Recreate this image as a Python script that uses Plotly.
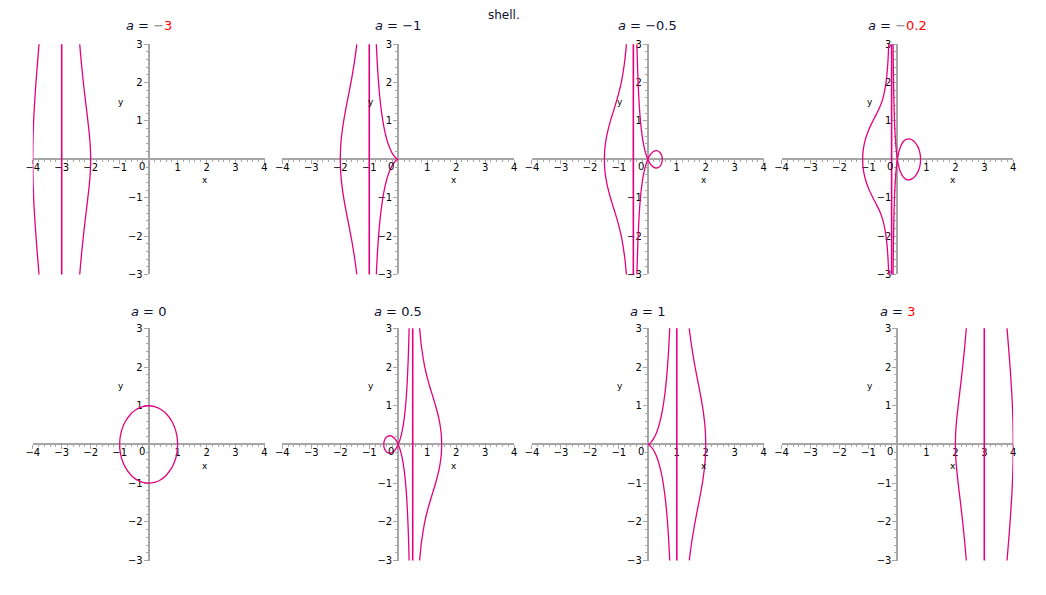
import plotly.graph_objects as go

# parameter of each panel, row by row
A_VALUES = [-3, -1, -0.5, -0.2, 0, 0.5, 1, 3]
RED_VALUES = [-3, -0.2, 3]

# upper halves (y >= 0) of each branch;
# the lower halves are the mirror image in the x-axis
m3_left_x = [-4, -3.99, -3.97, -3.95, -3.9, -3.85, -3.8, -3.78]
m3_left_y = [0, 0.569, 0.995, 1.298, 1.889, 2.386, 2.85, 3.033]
m3_right_x = [-2, -2.01, -2.03, -2.05, -2.1, -2.15, -2.2, -2.25, -2.3, -2.35, -2.38]
m3_right_y = [0, 0.287, 0.509, 0.674, 1.017, 1.333, 1.65, 1.984, 2.346, 2.747, 3.012]

m1_left_x = [-2, -1.99, -1.97, -1.95, -1.9, -1.8, -1.7, -1.6, -1.5, -1.45, -1.43]
m1_left_y = [0, 0.284, 0.494, 0.641, 0.92, 1.35, 1.734, 2.133, 2.598, 2.877, 3.002]
m1_inner_x = [0, -0.05, -0.1, -0.2, -0.3, -0.4, -0.5, -0.6, -0.65, -0.7, -0.72, -0.75, -0.76]
m1_inner_y = [0, 0.016, 0.048, 0.15, 0.306, 0.533, 0.866, 1.375, 1.74, 2.226, 2.469, 2.905, 3.074]

m05_left_x = [-1.5, -1.49, -1.47, -1.45, -1.4, -1.3, -1.2, -1.1, -1.0, -0.9, -0.8, -0.75, -0.735]
m05_left_y = [0, 0.212, 0.368, 0.477, 0.678, 0.975, 1.224, 1.467, 1.732, 2.062, 2.544, 2.905, 3.04]
m05_inner_x = [0, -0.05, -0.1, -0.15, -0.2, -0.25, -0.3, -0.35, -0.375, -0.38]
m05_inner_y = [0, 0.099, 0.229, 0.401, 0.636, 0.968, 1.47, 2.307, 2.977, 3.144]
m05_loop_x = [0, 0.05, 0.1, 0.15, 0.2, 0.25, 0.3, 0.35, 0.4, 0.45, 0.48, 0.49, 0.495, 0.5]
m05_loop_y = [0, 0.076, 0.133, 0.175, 0.204, 0.221, 0.225, 0.217, 0.194, 0.148, 0.098, 0.07, 0.05, 0]

m02_left_x = [-1.2, -1.19, -1.17, -1.15, -1.1, -1.0, -0.9, -0.8, -0.7, -0.6, -0.5, -0.4,
              -0.35, -0.32, -0.3, -0.298]
m02_left_y = [0, 0.17, 0.293, 0.378, 0.533, 0.75, 0.918, 1.067, 1.212, 1.375, 1.59, 1.96,
              2.307, 2.647, 2.985, 3.026]
m02_inner_x = [0, -0.02, -0.05, -0.08, -0.1, -0.12, -0.14, -0.15, -0.152]
m02_inner_y = [0, 0.109, 0.33, 0.662, 0.995, 1.495, 2.329, 2.996, 3.163]
m02_loop_x = [0, 0.05, 0.1, 0.2, 0.3, 0.4, 0.5, 0.6, 0.7, 0.75, 0.78, 0.79, 0.795, 0.8]
m02_loop_y = [0, 0.194, 0.318, 0.458, 0.52, 0.533, 0.51, 0.45, 0.339, 0.247, 0.158, 0.113, 0.08, 0]

circle_x = [-1, -0.99, -0.95, -0.9, -0.8, -0.6, -0.4, -0.2, 0, 0.2, 0.4, 0.6, 0.8, 0.9, 0.95, 0.99, 1]
circle_y = [0, 0.141, 0.312, 0.436, 0.6, 0.8, 0.917, 0.98, 1, 0.98, 0.917, 0.8, 0.6, 0.436, 0.312, 0.141, 0]

BRANCHES = {
    -3: [(m3_left_x, m3_left_y), (m3_right_x, m3_right_y)],
    -1: [(m1_left_x, m1_left_y), (m1_inner_x, m1_inner_y)],
    -0.5: [(m05_left_x, m05_left_y), (m05_inner_x, m05_inner_y), (m05_loop_x, m05_loop_y)],
    -0.2: [(m02_left_x, m02_left_y), (m02_inner_x, m02_inner_y), (m02_loop_x, m02_loop_y)],
    0: [(circle_x, circle_y)],
}
# the curve for a is the curve for -a reflected in the y-axis
for a in (0.5, 1, 3):
    BRANCHES[a] = [([-v for v in xs], ys) for xs, ys in BRANCHES[-a]]

X_TICKS = [-4, -3, -2, -1, 1, 2, 3, 4]
Y_TICKS = [-3, -2, -1, 1, 2, 3]

W, H = 1046, 595
CURVE = '#E5007F'
AXIS = '#A6A6A6'
FONT = 'DejaVu Sans'


def label(v):
    s = f'{v:g}'
    return s.replace('-', '\u2212')


fig = go.Figure()
annotations = []
shapes = []

for k, a in enumerate(A_VALUES):
    r, c = divmod(k, 4)
    n = k + 1
    xname = 'x' if n == 1 else f'x{n}'
    yname = 'y' if n == 1 else f'y{n}'

    left, right = 26 + 252 * c, 260 + 252 * c
    top, bottom = 39 + 290 * r, 274 + 292 * r
    xdom = [left / W, right / W]
    ydom = [1 - bottom / H, 1 - top / H]

    for xs, ys in BRANCHES[a]:
        for sign in (1, -1):
            fig.add_trace(go.Scatter(
                x=xs, y=[sign * v for v in ys], xaxis=xname, yaxis=yname,
                mode='lines', line=dict(color=CURVE, width=1.3, shape='spline', smoothing=0.8),
                hoverinfo='skip', showlegend=False))

    # the line x = a is part of every curve but a = 0, where it lies on the y-axis
    if a != 0:
        shapes.append(dict(type='line', xref=xname, yref=f'{yname} domain',
                           x0=a, x1=a, y0=0, y1=1, line=dict(color=CURVE, width=1.6)))

    fig.update_layout({
        f'xaxis{"" if n == 1 else n}': dict(
            domain=xdom, range=[-4, 4], anchor='free', position=sum(ydom) / 2,
            tickvals=X_TICKS, ticktext=[label(v) for v in X_TICKS],
            ticks='outside', ticklen=4, tickwidth=1, tickcolor=AXIS, ticklabelstandoff=-5,
            minor=dict(tickvals=[i / 5 for i in range(-20, 21)], ticks='outside',
                       ticklen=2, tickwidth=1, tickcolor=AXIS),
            showline=True, linecolor=AXIS, linewidth=2, showgrid=False, zeroline=False,
            tickfont=dict(family=FONT, size=10, color='#000000'),
            layer='below traces', fixedrange=True),
        f'yaxis{"" if n == 1 else n}': dict(
            domain=ydom, range=[-3, 3], anchor='free', position=sum(xdom) / 2,
            tickvals=Y_TICKS, ticktext=[label(v) for v in Y_TICKS],
            ticks='outside', ticklen=4, tickwidth=1, tickcolor=AXIS, ticklabelstandoff=-1,
            minor=dict(tickvals=[i / 5 for i in range(-15, 16)], ticks='outside',
                       ticklen=2, tickwidth=1, tickcolor=AXIS),
            showline=True, linecolor=AXIS, linewidth=2, showgrid=False, zeroline=False,
            tickfont=dict(family=FONT, size=10, color='#000000'),
            layer='below traces', fixedrange=True),
    })

    # panel title: a = value
    value = label(abs(a))
    sign = '\u2212' if a < 0 else ''
    if a in RED_VALUES:
        text = (f'<i>a</i> = <span style="color:#808080">{sign}</span>'
                f'<span style="color:#FF0000">{value}</span>')
    else:
        text = f'<i>a</i> = {sign}{value}'
    annotations.append(dict(
        x=sum(xdom) / 2, y=1 - (20 + 292 * r) / H, xref='paper', yref='paper',
        text=text, showarrow=False, xanchor='center', yanchor='middle',
        font=dict(family=FONT, size=13, color='#101030')))

    # origin label and axis names
    annotations.append(dict(x=0, y=0, xref=xname, yref=yname, text='0', showarrow=False,
                            xanchor='right', yanchor='top', xshift=-2, yshift=0,
                            font=dict(family=FONT, size=10, color='#000000')))
    annotations.append(dict(x=1.93, y=-0.55, xref=xname, yref=yname, text='x', showarrow=False,
                            font=dict(family=FONT, size=9, color='#000000')))
    annotations.append(dict(x=-0.95, y=1.5, xref=xname, yref=yname, text='y', showarrow=False,
                            font=dict(family=FONT, size=9, color='#000000')))

annotations.append(dict(x=502 / W, y=1, xref='paper', yref='paper', text='shell.',
                        showarrow=False, xanchor='center', yanchor='top',
                        font=dict(family=FONT, size=12, color='#101030')))

fig.update_layout(
    width=W, height=H,
    margin=dict(l=0, r=0, t=0, b=0),
    paper_bgcolor='white', plot_bgcolor='white',
    annotations=annotations, shapes=shapes,
    showlegend=False,
)

fig.write_html("out.html", config={'displayModeBar': False},
               post_script="document.body.style.margin='0';document.body.style.overflow='hidden';")
